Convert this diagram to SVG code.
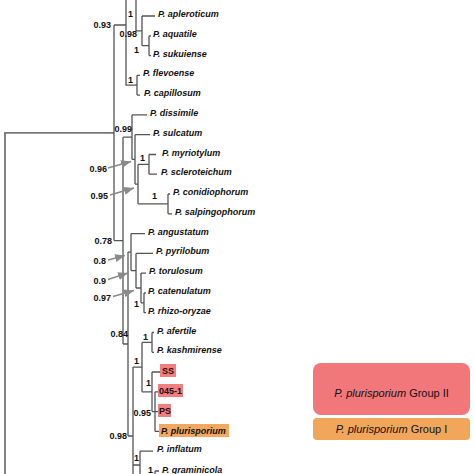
<svg xmlns="http://www.w3.org/2000/svg" width="474" height="474" viewBox="0 0 474 474">
<style>
.br{stroke:#555;stroke-width:1.3;fill:none}
.rt{stroke:#777;stroke-width:1.8;fill:none}
.lf{font-family:"Liberation Sans",Arial,sans-serif;font-size:9px;font-weight:bold;font-style:italic;fill:#111}
.id{font-family:"Liberation Sans",Arial,sans-serif;font-size:9px;font-weight:bold;fill:#2a0c0c}
.bs{font-family:"Liberation Sans",Arial,sans-serif;font-size:9px;font-weight:bold;fill:#111;text-anchor:end}
.ar{stroke:#8a8a8a;stroke-width:1.5;fill:none;marker-end:url(#ah)}
.lg{font-family:"Liberation Sans",Arial,sans-serif;font-size:11px;fill:#111;text-anchor:middle}
.it{font-style:italic}
.pk{fill:#f08080}
.og{fill:#f2a85e}
</style>
<defs>
<marker id="ah" markerUnits="userSpaceOnUse" markerWidth="10" markerHeight="8" refX="10" refY="4" orient="auto">
<path d="M0,0 L10,4 L0,8 z" fill="#8a8a8a"/>
</marker>
</defs>
<rect width="474" height="474" fill="#fff"/>
<g id="connectors">
<path class="rt" d="M5,474 V132.8 H114"/>
<path class="br" d="M114,25 V240.6 M114,25 H126 M126,0 V85.2 H137 M137,75.3 V95.1 M137,75.3 H140 M137,95.1 H140"/>
<path class="br" d="M136,0 V30.9 H142 M142,16 V45.7 M142,16 H155 M142,45.7 H149 M149,35.8 V55.6 M149,35.8 H151 M149,55.6 H151"/>
<path class="br" d="M114,240.6 H123 M123,137.2 V344"/>
<path class="br" d="M123,137.2 H132 M132,114.9 V159.4 M132,114.9 H147 M132,159.4 H135 M135,134.7 V184.1 M135,134.7 H150 M135,184.1 H138 M138,164.4 V203.9"/>
<path class="br" d="M138,164.4 H149 M149,154.5 V174.2 M149,154.5 H156 M149,174.2 H157 M138,203.9 H168 M168,194 V213.8 M168,194 H170 M168,213.8 H172"/>
<path class="br" d="M123,344 H128 M128,252.1 V436 M128,252.1 H131 M131,233.6 V270.7 M131,233.6 H145 M131,270.7 H136 M136,253.4 V288 M136,253.4 H153 M136,288 H141 M141,273.1 V302.8 M141,273.1 H146 M141,302.8 H144 M144,292.9 V312.7 M144,292.9 H146 M144,312.7 H146"/>
<path class="br" d="M128,436 H133 M133,367.1 V474 M133,367.1 H142 M142,342.4 V391.8 M142,342.4 H152 M152,332.5 V352.3 M152,332.5 H154 M152,352.3 H154"/>
<path class="br" d="M142,391.8 H152 M152,372 V411.6 M152,372 H160 M152,411.6 H155 M155,391.8 V431.4 M155,391.8 H158 M155,411.6 H158 M155,431.4 H159"/>
<path class="br" d="M133,465 H140 M140,451.2 V474 M140,451.2 H153 M155,471 V474 M155,471 H159"/>
<path class="ar" d="M108,168 L131,161.5"/>
<path class="ar" d="M110,195 L134,188"/>
<path class="ar" d="M108,260 L125,255.5"/>
<path class="ar" d="M108,279.5 L128,273"/>
<path class="ar" d="M113,296.5 L134,290.5"/>
</g>
<g id="support">
<text class="bs" x="133" y="16.5">1</text>
<text class="bs" x="111" y="28">0.93</text>
<text class="bs" x="137" y="37">0.98</text>
<text class="bs" x="139" y="53">1</text>
<text class="bs" x="133" y="83">1</text>
<text class="bs" x="132" y="132">0.99</text>
<text class="bs" x="145" y="161">1</text>
<text class="bs" x="157" y="199">1</text>
<text class="bs" x="107" y="172">0.96</text>
<text class="bs" x="108" y="199">0.95</text>
<text class="bs" x="112" y="244">0.78</text>
<text class="bs" x="106" y="264">0.8</text>
<text class="bs" x="106" y="284">0.9</text>
<text class="bs" x="111" y="301">0.97</text>
<text class="bs" x="139" y="307">1</text>
<text class="bs" x="128" y="337">0.84</text>
<text class="bs" x="148" y="340">1</text>
<text class="bs" x="139" y="364">1</text>
<text class="bs" x="151" y="386">1</text>
<text class="bs" x="151" y="416">0.95</text>
<text class="bs" x="127" y="439">0.98</text>
<text class="bs" x="139" y="461">1</text>
<text class="bs" x="153" y="472.5">1</text>
</g>
<g id="apleroticum"><text class="lf" x="158" y="17">P. apleroticum</text></g>
<g id="aquatile"><text class="lf" x="153" y="36.8">P. aquatile</text></g>
<g id="sukuiense"><text class="lf" x="153" y="56.6">P. sukuiense</text></g>
<g id="flevoense"><text class="lf" x="143" y="76.3">P. flevoense</text></g>
<g id="capillosum"><text class="lf" x="144" y="96.1">P. capillosum</text></g>
<g id="dissimile"><text class="lf" x="150" y="115.9">P. dissimile</text></g>
<g id="sulcatum"><text class="lf" x="153" y="135.7">P. sulcatum</text></g>
<g id="myriotylum"><text class="lf" x="162" y="155.5">P. myriotylum</text></g>
<g id="scleroteichum"><text class="lf" x="161" y="175.2">P. scleroteichum</text></g>
<g id="conidiophorum"><text class="lf" x="173" y="195">P. conidiophorum</text></g>
<g id="salpingophorum"><text class="lf" x="175" y="214.8">P. salpingophorum</text></g>
<g id="angustatum"><text class="lf" x="148" y="234.6">P. angustatum</text></g>
<g id="pyrilobum"><text class="lf" x="156" y="254.4">P. pyrilobum</text></g>
<g id="torulosum"><text class="lf" x="149" y="274.1">P. torulosum</text></g>
<g id="catenulatum"><text class="lf" x="148" y="293.9">P. catenulatum</text></g>
<g id="rhizo-oryzae"><text class="lf" x="148" y="313.7">P. rhizo-oryzae</text></g>
<g id="afertile"><text class="lf" x="157" y="333.5">P. afertile</text></g>
<g id="kashmirense"><text class="lf" x="157" y="353.3">P. kashmirense</text></g>
<g id="SS"><rect class="pk" x="160" y="364" width="16" height="13"/><text class="id" x="162" y="374">SS</text></g>
<g id="045-1"><rect class="pk" x="158" y="384" width="25" height="13"/><text class="id" x="159" y="394">045-1</text></g>
<g id="PS"><rect class="pk" x="158" y="404" width="13" height="13"/><text class="id" x="159" y="414">PS</text></g>
<g id="plurisporium"><rect class="og" x="159" y="424" width="70" height="13"/><text class="lf" x="161" y="434">P. plurisporium</text></g>
<g id="inflatum"><text class="lf" x="157" y="452.2">P. inflatum</text></g>
<g id="graminicola"><text class="lf" x="162" y="472.5">P. graminicola</text></g>
<g id="legend-group2"><rect x="313" y="363" width="157" height="52" rx="8" fill="#f2777a"/><text class="lg" x="391.5" y="397"><tspan class="it">P. plurisporium</tspan> Group II</text></g>
<g id="legend-group1"><rect x="313" y="418" width="157" height="22" rx="4" fill="#f2a65a"/><text class="lg" x="391.5" y="433"><tspan class="it">P. plurisporium</tspan> Group I</text></g>
</svg>
